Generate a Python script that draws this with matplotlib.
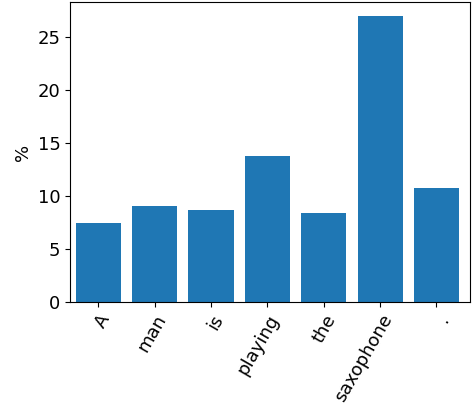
import matplotlib
matplotlib.use("Agg")
import matplotlib.pyplot as plt

tokens = ["A", "man", "is", "playing", "the", "saxophone", "."]
percent = [7.5, 9.1, 8.7, 13.8, 8.4, 27.0, 10.8]

plt.rcParams["font.size"] = 13
fig, ax = plt.subplots(figsize=(4.74, 4.09), dpi=100)
ax.bar(range(len(tokens)), percent, color="#1f77b4")
ax.set_xticks(range(len(tokens)))
ax.set_xticklabels(tokens, rotation=60, ha="right", rotation_mode="anchor")
ax.set_ylabel("%")
ax.set_yticks([0, 5, 10, 15, 20, 25])
ax.set_xlim(-0.5, len(tokens) - 0.5 + 0.1)
fig.subplots_adjust(left=0.148, right=0.992, top=0.995, bottom=0.262)
fig.savefig("out.png")
